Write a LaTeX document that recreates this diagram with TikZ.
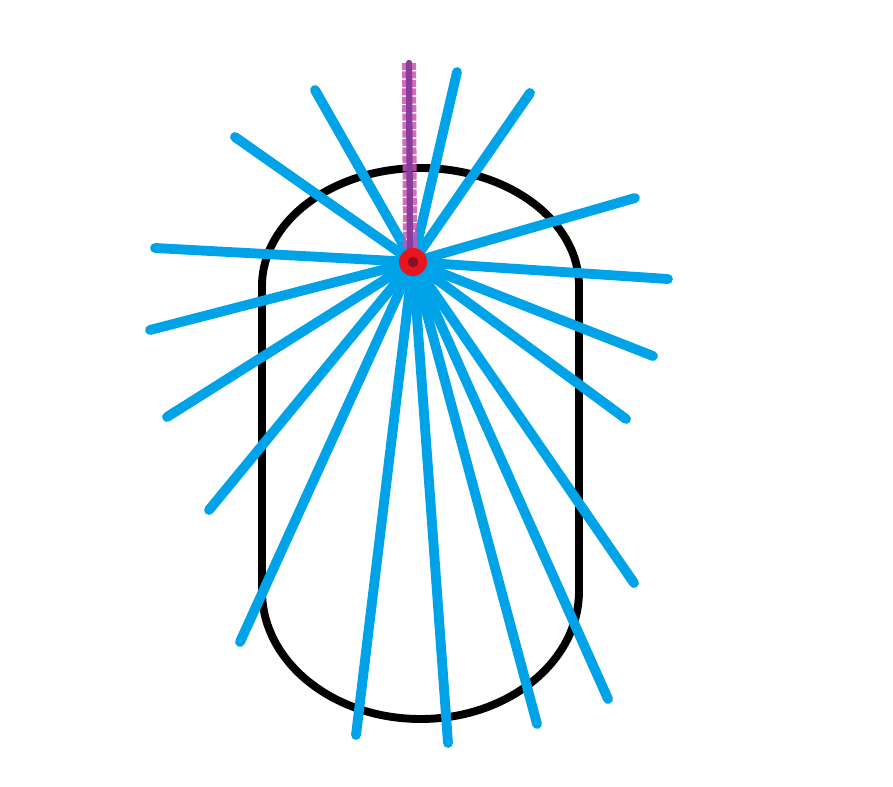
\documentclass[tikz,border=0pt]{standalone}
\usepackage{tikz}
\usetikzlibrary{arrows.meta,shapes}

\definecolor{raysky}{HTML}{00A2E8}
\definecolor{hubred}{HTML}{E8141E}
\definecolor{hubcore}{HTML}{8A0F28}
\definecolor{markpink}{HTML}{CC55AE}
\definecolor{markviolet}{HTML}{8A3C9C}

\begin{document}
\begin{tikzpicture}[x=0.02cm,y=-0.02cm]
\useasboundingbox (0,0) rectangle (893,787);
\tikzstyle{outline}=[draw=black,line width=4.5pt]
\tikzstyle{ray}=[draw=raysky,line width=5.6pt,line cap=round]
\tikzstyle{marker}=[draw=markpink,opacity=0.85,line width=8pt,dash pattern=on 4pt off 0.8pt]
\tikzstyle{markcore}=[draw=markviolet,line width=3.6pt,line cap=round]
\tikzstyle{hubdot}=[circle,fill=hubred,minimum size=16pt,inner sep=0pt]
\tikzstyle{hubin}=[circle,fill=hubcore,minimum size=6pt,inner sep=0pt]
% the track
\draw[outline] (262,286) arc[start angle=180,end angle=360,x radius=158.5,y radius=118]
  -- (579,591) arc[start angle=0,end angle=180,x radius=158.5,y radius=128] -- cycle;
\coordinate (hub) at (413,262);
% rays, clockwise from the top
\foreach \px/\py [count=\i] in {457/72,530/93,635/198,668/279,653/356,626/419,
  634/583,608/699,537/724,448/743,356/735,240/642,209/510,167/417,150/330,
  155/248,235/137,315/90}
{
  \coordinate (r\i) at (\px,\py);
  \draw[ray] (hub) -- (r\i);
}
% marked line
\coordinate (mtop) at (409,63);
\coordinate (mbot) at (410,250);
\draw[marker] (mtop) -- (mbot);
\draw[markcore] (mtop) -- (mbot);
\node[hubdot] (H1) at (hub) {};
\node[hubin] (H2) at (hub) {};
\end{tikzpicture}
\end{document}
